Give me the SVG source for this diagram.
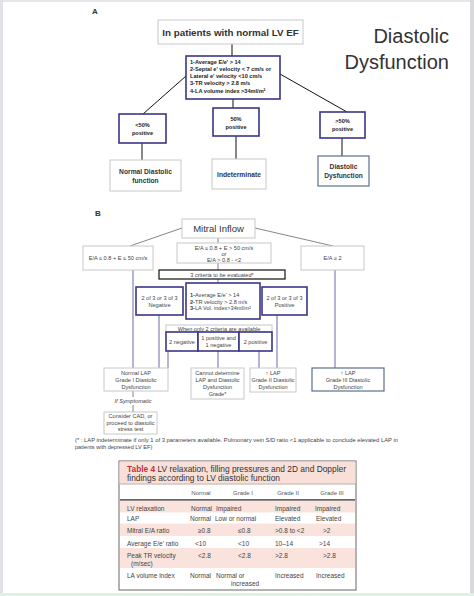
<svg xmlns="http://www.w3.org/2000/svg" width="474" height="596" viewBox="0 0 474 596">
<style>
text{font-family:"Liberation Sans",Arial,sans-serif;fill:#333}
.b{font-weight:bold}
.t{font-size:5.6px;fill:#444}
.tb{font-size:5.6px;font-weight:bold;fill:#222}
.box{fill:#fff;stroke:#c8c8c8;stroke-width:1}
.dbox{fill:#fff;stroke:#3a3689;stroke-width:1.6}
.gbox{fill:#fff;stroke:#5d6e8c;stroke-width:1.2}
.ln{stroke:#111;stroke-width:1;fill:none}
.pl{stroke:#6d68ad;stroke-width:1;fill:none}
.gl{stroke:#777;stroke-width:0.9;fill:none}
.tv{font-size:6.5px;fill:#444}
.th{font-size:6px;fill:#555}
.m{text-anchor:middle}
</style>
<rect x="0" y="0" width="474" height="596" fill="#fff"/>
<rect x="0" y="0" width="474" height="2" fill="#e6e6e8"/>
<rect x="0" y="0" width="3" height="596" fill="#e2e2e6"/>
<rect x="470" y="0" width="4" height="596" fill="#d9d9dd"/>
<rect x="0" y="593" width="474" height="3" fill="#dcf2e3"/>

<text x="92" y="14" class="b" font-size="8">A</text>
<text x="95" y="216" class="b" font-size="8">B</text>
<g id="title"><text x="449" y="43" font-size="20" text-anchor="end" fill="#3a3a3a">Diastolic</text><text x="449" y="69" font-size="20" text-anchor="end" fill="#3a3a3a">Dysfunction</text></g>

<g id="connectors">
<line class="ln" x1="232" y1="44" x2="232" y2="56"/>
<line class="ln" x1="186" y1="76" x2="143" y2="114"/>
<line class="ln" x1="280" y1="74" x2="347" y2="112"/>
<line class="ln" x1="233" y1="99" x2="233" y2="108"/>
<line class="ln" x1="142" y1="143" x2="142" y2="160"/>
<line class="ln" x1="236" y1="136" x2="236" y2="159"/>
<line class="ln" x1="342" y1="138" x2="342" y2="156"/>
<line class="gl" x1="182" y1="228" x2="130" y2="246"/>
<line class="gl" x1="255" y1="228" x2="333" y2="246"/>
<line class="gl" x1="218" y1="238" x2="218" y2="243"/>
<line class="gl" x1="218" y1="263" x2="218" y2="270"/>
<line class="gl" x1="218" y1="279" x2="218" y2="283"/>
<line class="pl" x1="133" y1="270" x2="133" y2="368"/>
<line class="pl" x1="335" y1="270" x2="335" y2="368"/>
<line class="pl" x1="159" y1="315" x2="159" y2="368"/>
<line class="pl" x1="277" y1="315" x2="277" y2="368"/>
<line class="pl" x1="168" y1="351" x2="168" y2="368"/>
<line class="pl" x1="218" y1="351" x2="218" y2="368"/>
<line class="pl" x1="259" y1="351" x2="259" y2="368"/>
<line class="gl" x1="133" y1="391" x2="133" y2="397"/>
<line class="gl" x1="133" y1="405" x2="133" y2="412"/>
</g>

<g id="normal-ef"><rect class="box" x="158" y="20" width="145" height="24"/><text x="230.5" y="36" class="b m" font-size="9.8" fill="#111">In patients with normal LV EF</text></g>
<g id="criteria-a"><rect class="dbox" x="186" y="56" width="94" height="43"/>
<text x="190" y="64" class="tb">1-Average E/e' &gt; 14</text>
<text x="190" y="71" class="tb">2-Septal e' velocity &lt; 7 cm/s or</text>
<text x="190" y="78" class="tb">Lateral e' velocity &lt;10 cm/s</text>
<text x="190" y="85" class="tb">3-TR velocity &gt; 2.8 m/s</text>
<text x="190" y="92.5" class="tb">4-LA volume index &gt;34ml/m²</text></g>
<g id="lt50"><rect class="dbox" x="119" y="114" width="47" height="29"/><text x="142.5" y="127" class="tb m">&lt;50%</text><text x="142.5" y="135" class="tb m">positive</text></g>
<g id="eq50"><rect class="dbox" x="213" y="108" width="46" height="28"/><text x="236" y="121" class="tb m">50%</text><text x="236" y="129" class="tb m">positive</text></g>
<g id="gt50"><rect class="dbox" x="320" y="112" width="45" height="26"/><text x="342.5" y="123" class="tb m">&gt;50%</text><text x="342.5" y="131" class="tb m">positive</text></g>
<g id="normal-df"><rect class="box" x="110" y="160" width="71" height="31"/><text x="145.5" y="174" class="b m" font-size="6.7" fill="#222">Normal Diastolic</text><text x="145.5" y="182.5" class="b m" font-size="6.7" fill="#222">function</text></g>
<g id="indet"><rect class="box" x="212" y="159" width="54" height="30"/><text x="239" y="177" class="b m" font-size="6.7" fill="#222">Indeterminate</text></g>
<g id="dd"><rect class="gbox" x="318" y="156" width="51" height="30"/><text x="343.5" y="169" class="b m" font-size="6.7" fill="#222">Diastolic</text><text x="343.5" y="177.5" class="b m" font-size="6.7" fill="#222">Dysfunction</text></g>

<g id="mitral"><rect class="box" x="182" y="219" width="73" height="19"/><text x="218.5" y="232" class="m" font-size="9.5" fill="#333">Mitral Inflow</text></g>
<g id="ea-low"><rect class="box" x="83" y="246" width="70" height="24"/><text x="118" y="260" class="t m">E/A ≤ 0.8 + E ≤ 50 cm/s</text></g>
<g id="ea-mid"><rect class="box" x="177" y="243" width="94" height="20"/><text x="224" y="250" class="t m">E/A ≤ 0.8 + E &gt; 50 cm/s</text><text x="224" y="255.5" class="t m">or</text><text x="224" y="262" class="t m">E/A &gt; 0.8 - &lt;2</text></g>
<g id="ea-high"><rect class="box" x="301" y="246" width="63" height="24"/><text x="332.5" y="260" class="t m">E/A ≥ 2</text></g>
<g id="three-crit"><rect x="159" y="270" width="126" height="9" fill="#fff" stroke="#222" stroke-width="1.3"/><text x="222" y="277" class="t m">3 criteria to be evaluated*</text></g>
<g id="neg"><rect class="dbox" x="136" y="287" width="47" height="28"/><text x="159.5" y="300" class="t m">2 of 3 or 3 of 3</text><text x="159.5" y="307" class="t m">Negative</text></g>
<g id="crit-b"><rect class="dbox" x="186" y="283" width="74" height="36"/>
<text x="190" y="297" class="t"><tspan class="b">1-</tspan>Average E/e' &gt; 14</text>
<text x="190" y="303.5" class="t"><tspan class="b">2-</tspan>TR velocity &gt; 2.8 m/s</text>
<text x="190" y="310" class="t"><tspan class="b">3-</tspan>LA Vol. index&gt;34ml/m²</text></g>
<g id="pos"><rect class="dbox" x="262" y="287" width="45" height="28"/><text x="284.5" y="300" class="t m">2 of 3 or 3 of 3</text><text x="284.5" y="307" class="t m">Positive</text></g>
<g id="two-crit"><rect class="box" x="166" y="325" width="106" height="7"/><text x="219" y="330.8" class="t m">When only 2 criteria are available</text></g>
<g id="two-neg"><rect class="dbox" x="166" y="332" width="32" height="19"/><text x="182" y="344" class="t m">2 negative</text></g>
<g id="one-each"><rect class="dbox" x="198" y="332" width="41" height="19"/><text x="218.5" y="340" class="t m">1 positive and</text><text x="218.5" y="347" class="t m">1 negative</text></g>
<g id="two-pos"><rect class="dbox" x="239" y="332" width="33" height="19"/><text x="255.5" y="344" class="t m">2 positive</text></g>
<g id="grade1"><rect class="box" x="104" y="368" width="64" height="23"/><text x="136" y="375" class="t m">Normal  LAP</text><text x="136" y="382" class="t m">Grade I Diastolic</text><text x="136" y="389" class="t m">Dysfunction</text></g>
<g id="cannot"><rect class="box" x="191" y="368" width="53" height="31"/><text x="217.5" y="375" class="t m">Cannot determine</text><text x="217.5" y="382" class="t m">LAP and Diastolic</text><text x="217.5" y="389" class="t m">Dysfunction</text><text x="217.5" y="396" class="t m">Grade*</text></g>
<g id="grade2"><rect class="box" x="250" y="368" width="46" height="24"/><text x="273" y="375" class="t m">↑ LAP</text><text x="273" y="382" class="t m">Grade II Diastolic</text><text x="273" y="389" class="t m">Dysfunction</text></g>
<g id="grade3"><rect class="gbox" x="312" y="368" width="72" height="23"/><text x="348" y="375" class="t m">↑ LAP</text><text x="348" y="382" class="t m">Grade III Diastolic</text><text x="348" y="389" class="t m">Dysfunction</text></g>
<g id="symptomatic"><text x="133" y="403" class="t m" font-style="italic">If Symptomatic</text></g>
<g id="consider"><rect class="box" x="104" y="412" width="53" height="22"/><text x="130.5" y="418" class="t m">Consider CAD, or</text><text x="130.5" y="424.5" class="t m">proceed to diastolic</text><text x="130.5" y="431" class="t m">stress  test</text></g>
<g id="footnote"><text x="75" y="442" class="t" textLength="323" lengthAdjust="spacingAndGlyphs">(* : LAP indeterminate if only 1 of 3 parameters available. Pulmonary vein S/D ratio &lt;1 applicable to conclude elevated LAP in</text><text x="75" y="449" class="t">patients with depressed LV EF)</text></g>

<g id="table4">
<rect x="119" y="461" width="237" height="129" fill="#fff" stroke="#666" stroke-width="1"/>
<rect x="119.5" y="461.5" width="236" height="23" fill="#f8e0d9"/>
<line x1="119" y1="484" x2="356" y2="484" stroke="#999" stroke-width="0.6"/>
<text x="127" y="472" font-size="8.4" fill="#333"><tspan fill="#c4323a" font-weight="bold">Table 4</tspan> LV relaxation, filling pressures and 2D and Doppler</text>
<text x="127" y="481" font-size="8.4" fill="#333">findings according to LV diastolic function</text>
<text x="201" y="495" class="th m">Normal</text><text x="243" y="495" class="th m">Grade I</text><text x="288" y="495" class="th m">Grade II</text><text x="332" y="495" class="th m">Grade III</text>
<line x1="120" y1="500" x2="355" y2="500" stroke="#333" stroke-width="1.3"/>
<rect x="120" y="500.7" width="235" height="11.8" fill="#f9e3dc"/>
<rect x="120" y="523.5" width="235" height="12.5" fill="#f9e3dc"/>
<rect x="120" y="548" width="235" height="20" fill="#f9e3dc"/>
<text x="127" y="510.5" class="tv">LV relaxation</text><text x="191" y="510.5" class="tv">Normal</text><text x="216" y="510.5" class="tv">Impaired</text><text x="275" y="510.5" class="tv">Impaired</text><text x="315" y="510.5" class="tv">Impaired</text>
<text x="127" y="520.5" class="tv">LAP</text><text x="190" y="520.5" class="tv">Normal</text><text x="215" y="520.5" class="tv">Low or normal</text><text x="275" y="520.5" class="tv">Elevated</text><text x="316" y="520.5" class="tv">Elevated</text>
<text x="127" y="532.5" class="tv">Mitral E/A ratio</text><text x="198" y="532.5" class="tv">≥0.8</text><text x="238" y="532.5" class="tv">≤0.8</text><text x="275" y="532.5" class="tv">&gt;0.8 to &lt;2</text><text x="323" y="532.5" class="tv">&gt;2</text>
<text x="127" y="545.5" class="tv">Average E/e' ratio</text><text x="195" y="545.5" class="tv">&lt;10</text><text x="238" y="545.5" class="tv">&lt;10</text><text x="275" y="545.5" class="tv">10–14</text><text x="319" y="545.5" class="tv">&gt;14</text>
<text x="127" y="557.5" class="tv">Peak TR velocity</text><text x="131" y="565.5" class="tv">(m/sec)</text><text x="198" y="557.5" class="tv">&lt;2.8</text><text x="238" y="557.5" class="tv">&lt;2.8</text><text x="275" y="557.5" class="tv">&gt;2.8</text><text x="323" y="557.5" class="tv">&gt;2.8</text>
<text x="127" y="577.5" class="tv">LA volume index</text><text x="190" y="577.5" class="tv">Normal</text><text x="216" y="577.5" class="tv">Normal or</text><text x="231" y="585.5" class="tv">increased</text><text x="275" y="577.5" class="tv">Increased</text><text x="316" y="577.5" class="tv">Increased</text>
</g>
</svg>
